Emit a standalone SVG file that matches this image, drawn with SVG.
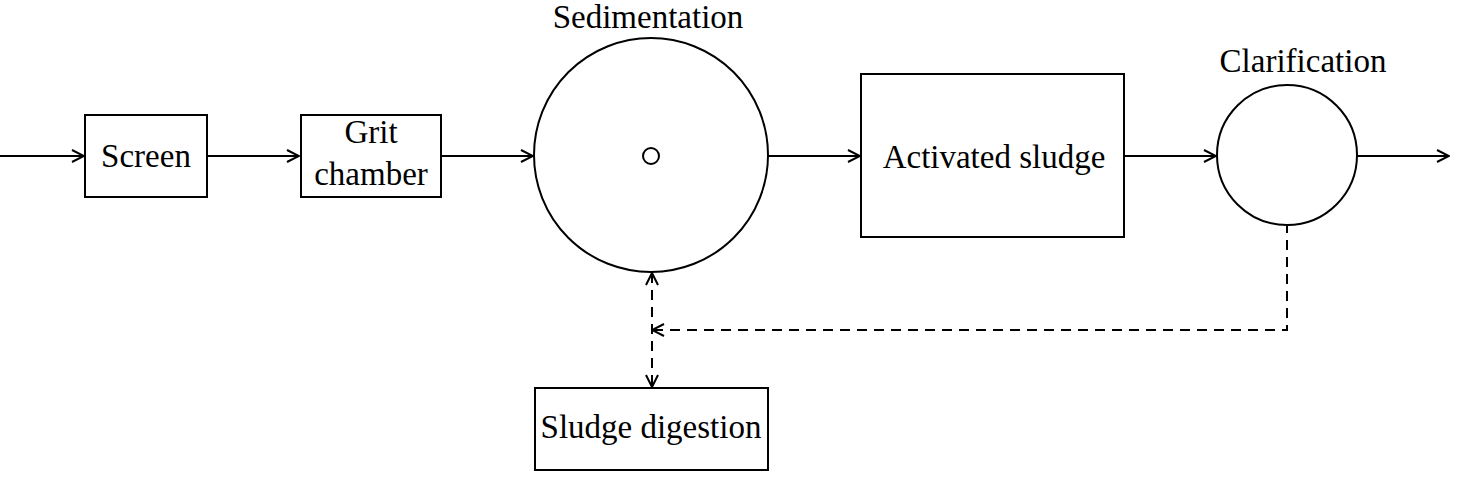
<svg xmlns="http://www.w3.org/2000/svg" width="1471" height="482" viewBox="0 0 1471 482">
<style>
.n{fill:#fff;stroke:#000;stroke-width:2}
.t{font-family:"Liberation Serif",serif;font-size:33px;text-anchor:middle;fill:#000}
.c{fill:none;stroke:#000;stroke-width:2}
.d{stroke-dasharray:10,7}
</style>
<defs>
<marker id="a" viewBox="0 0 14 14" refX="13" refY="7" markerWidth="14" markerHeight="14" markerUnits="userSpaceOnUse" orient="auto-start-reverse">
<path d="M1,1 L13,7 L1,13" fill="none" stroke="#000" stroke-width="2"/>
</marker>
</defs>
<g id="connectors">
<line class="c" x1="0" y1="156" x2="84" y2="156" marker-end="url(#a)"/>
<line class="c" x1="207" y1="156" x2="299" y2="156" marker-end="url(#a)"/>
<line class="c" x1="441" y1="156" x2="533" y2="156" marker-end="url(#a)"/>
<line class="c" x1="768" y1="156" x2="860" y2="156" marker-end="url(#a)"/>
<line class="c" x1="1124" y1="156" x2="1216" y2="156" marker-end="url(#a)"/>
<line class="c" x1="1357" y1="156" x2="1449" y2="156" marker-end="url(#a)"/>
<polyline class="c d" points="1287,223 1287,330 652,330" marker-end="url(#a)"/>
<line class="c d" x1="652" y1="273" x2="652" y2="387" marker-start="url(#a)" marker-end="url(#a)"/>
</g>
<g id="screen"><rect class="n" x="85" y="115" width="122" height="82"/><text class="t" x="146" y="167">Screen</text></g>
<g id="grit"><rect class="n" x="301" y="115" width="140" height="82"/><text class="t" x="371" y="143">Grit</text><text class="t" x="371" y="185">chamber</text></g>
<g id="sedimentation"><circle class="n" cx="651" cy="155" r="117"/><circle class="n" cx="651" cy="156" r="8"/><text class="t" x="648" y="28">Sedimentation</text></g>
<g id="activated"><rect class="n" x="861" y="74" width="263" height="163"/><text class="t" x="994" y="168">Activated sludge</text></g>
<g id="clarification"><circle class="n" cx="1287" cy="155" r="70"/><text class="t" x="1303" y="72">Clarification</text></g>
<g id="digestion"><rect class="n" x="535" y="388" width="233" height="82"/><text class="t" x="651" y="438">Sludge digestion</text></g>
</svg>
